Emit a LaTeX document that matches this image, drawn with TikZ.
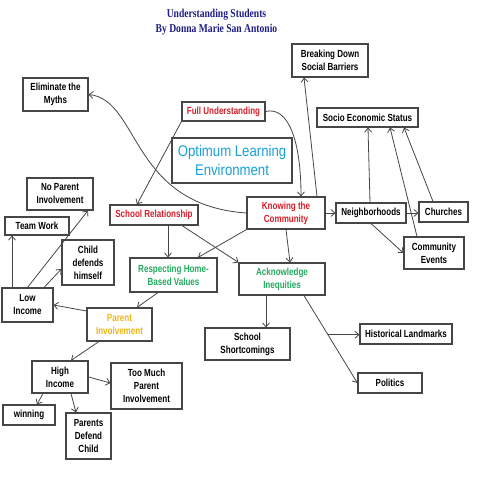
\documentclass[tikz,border=0pt]{standalone}
\usepackage{fontspec}
\setmainfont{Liberation Sans}[FakeStretch=0.78]
\newfontfamily\optfont{Liberation Sans}[FakeStretch=0.85]
\newfontfamily\titlefont{Liberation Serif}[FakeStretch=0.8]
\usetikzlibrary{arrows.meta,calc}
\definecolor{navy}{RGB}{30,30,135}
\definecolor{cred}{RGB}{215,30,40}
\definecolor{cgreen}{RGB}{35,170,95}
\definecolor{corange}{RGB}{240,180,20}
\definecolor{ccyan}{RGB}{25,160,215}
\definecolor{edge}{RGB}{70,70,70}
\begin{document}
\begin{tikzpicture}[x=1pt,y=-1pt,
  box/.style={draw=edge,line width=1.1pt,fill=white,inner sep=0pt,align=center,
    font=\fontsize{10.3}{13}\selectfont\bfseries},
  arr/.style={draw=edge,line width=0.8pt,-{Straight Barb[length=4pt,width=7pt]}}]
\useasboundingbox[fill=white] (0,0) rectangle (480,480);
\node[font=\titlefont\fontsize{12}{15}\selectfont\bfseries,text=navy,align=center] (title) at (216.5,22.5) {Understanding Students\\By Donna Marie San Antonio};
% boxes
\node[box,minimum width=65pt,minimum height=33pt] (myths) at (55.5,94.5) {Eliminate the\\Myths};
\node[box,minimum width=83pt,minimum height=19pt,text=cred] (fu) at (223.5,111.5) {Full Understanding};
\node[box,minimum width=120pt,minimum height=45pt,text=ccyan,font=\optfont\fontsize{15.5}{19}\selectfont] (opt) at (232,160.5) {Optimum Learning\\Environment};
\node[box,minimum width=88pt,minimum height=20pt,text=cred] (sr) at (154,215) {School Relationship};
\node[box,minimum width=78pt,minimum height=32pt,text=cred] (kc) at (286,213) {Knowing the\\Community};
\node[box,minimum width=70pt,minimum height=20pt] (nb) at (371,213) {Neighborhoods};
\node[box,minimum width=49pt,minimum height=20pt] (ch) at (443.5,212) {Churches};
\node[box,minimum width=60pt,minimum height=32pt] (ce) at (434,253) {Community\\Events};
\node[box,minimum width=76pt,minimum height=33pt] (bd) at (330,60.5) {Breaking Down\\Social Barriers};
\node[box,minimum width=101pt,minimum height=19pt] (ses) at (367.5,117.5) {Socio Economic Status};
\node[box,minimum width=87pt,minimum height=34pt,text=cgreen] (rh) at (173.5,275) {Respecting Home-\\Based Values};
\node[box,minimum width=86pt,minimum height=32pt,text=cgreen] (ai) at (282,279) {Acknowledge\\Inequities};
\node[box,minimum width=85pt,minimum height=32pt] (ss) at (247.5,344) {School\\Shortcomings};
\node[box,minimum width=92pt,minimum height=20pt] (hl) at (406,334) {Historical Landmarks};
\node[box,minimum width=64pt,minimum height=20pt] (pol) at (390,383) {Politics};
\node[box,minimum width=65pt,minimum height=33pt,text=corange] (pi) at (119.5,324.5) {Parent\\Involvement};
\node[box,minimum width=51pt,minimum height=34pt] (li) at (27.5,305) {Low\\Income};
\node[box,minimum width=52pt,minimum height=45pt] (cd) at (88,262.5) {Child\\defends\\himself};
\node[box,minimum width=66pt,minimum height=32pt] (np) at (60,194) {No Parent\\Involvement};
\node[box,minimum width=64pt,minimum height=18pt] (tw) at (37,226) {Team Work};
\node[box,minimum width=56pt,minimum height=32pt] (hi) at (60,377) {High\\Income};
\node[box,minimum width=71pt,minimum height=46pt] (tm) at (146.5,386) {Too Much\\Parent\\Involvement};
\node[box,minimum width=52pt,minimum height=20pt] (win) at (29,415) {winning};
\node[box,minimum width=45pt,minimum height=46pt] (pd) at (88.5,436) {Parents\\Defend\\Child};
% connectors
\draw[arr] (fu.south west) -- ([xshift=-17pt]sr.north);
\draw[arr] (fu.east) .. controls (288,106) and (301,140) .. ([xshift=15pt]kc.north);
\draw[arr] (kc.west) .. controls (130,205) and (140,100) .. (myths.east);
\draw[arr] ([xshift=14pt]sr.south) -- ([xshift=-5.5pt]rh.north);
\draw[arr] ([xshift=28pt]sr.south) -- (ai.north west);
\draw[arr] (kc.south west) -- ([xshift=24.5pt]rh.north);
\draw[arr] (kc.south) -- ([xshift=8pt]ai.north);
\draw[arr] ([xshift=31pt]kc.north) -- ([xshift=-26pt]bd.south);
\draw[arr] (kc.east) -- (nb.west);
\draw[arr] (nb.east) -- (nb.east -| ch.west);
\draw[arr] (nb.south) -- (ce.west);
\draw[arr] ([xshift=-1pt]nb.north) -- ([xshift=0.5pt]ses.south);
\draw[arr] ([xshift=-17pt]ce.north) -- ([xshift=22.5pt]ses.south);
\draw[arr] ([xshift=-10.5pt]ch.north) -- ([xshift=36.5pt]ses.south);
\draw[arr] ([xshift=-16pt]ai.south) -- ([xshift=18.5pt]ss.north);
\draw[arr] ([xshift=22pt]ai.south) -- (pol.west);
\coordinate (hb) at ($([xshift=22pt]ai.south)!0.448!(pol.west)$);
\draw[arr] (hb) -- (hb -| hl.west);
\draw[arr] ([xshift=-15.5pt]rh.south) -- ([xshift=17.5pt]pi.north);
\draw[arr] ([yshift=13.5pt]pi.west) -- (li.east);
\draw[arr] ([xshift=-20.5pt]pi.south) -- ([xshift=11pt]hi.north);
\draw[arr] (hi.east) -- ([yshift=3pt]tm.west);
\draw[arr] ([xshift=-17pt]hi.south) -- ([xshift=8pt]win.north);
\draw[arr] ([xshift=11pt]hi.south) -- ([xshift=-12.5pt]pd.north);
\draw[arr] ([xshift=-15.5pt]li.north) -- ([xshift=-25pt]tw.south);
\draw[arr] (li.north) -- ([xshift=28pt]np.south);
\draw[arr] ([xshift=16.5pt]li.north) -- ([yshift=-6.5pt]cd.west);
\end{tikzpicture}
\end{document}
